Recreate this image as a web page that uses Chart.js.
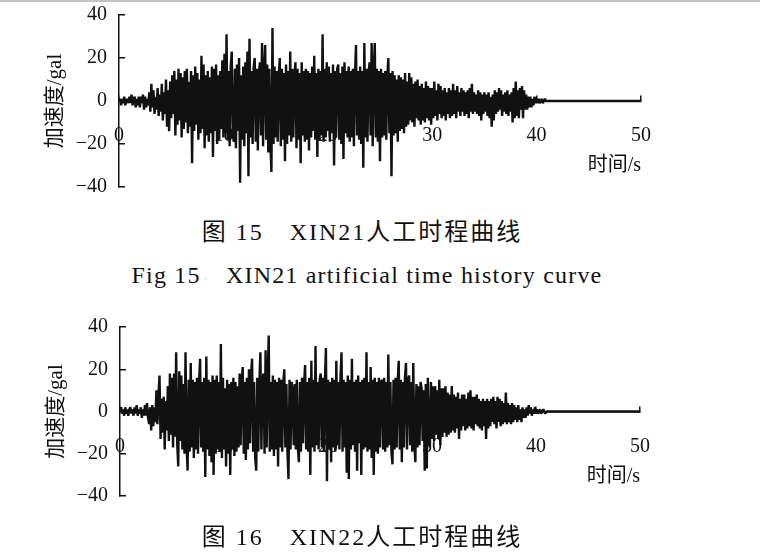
<!DOCTYPE html>
<html>
<head>
<meta charset="utf-8">
<script src="https://cdn.jsdelivr.net/npm/chart.js@4.4.1/dist/chart.umd.min.js"></script>
<style>
  body { margin: 0; background: #fff; width: 760px; height: 560px; position: relative; overflow: hidden;
         font-family: 'Liberation Serif', 'Noto Sans CJK SC', serif; color: #111; }
  .topline { position: absolute; left: 0; top: 0; width: 760px; height: 2px; background: #c4c4c4; }
  .box { position: absolute; left: 0; }
  .cap { position: absolute; left: 0; width: 724px; text-align: center; font-size: 24px; line-height: 28px;
         letter-spacing: 2px; white-space: nowrap; }
</style>
</head>
<body>
<div class="topline"></div>
<div class="box" style="top:-15px"><canvas id="chart21" width="760" height="232"></canvas></div>
<div class="cap" style="top:218px">图 15　XIN21人工时程曲线</div>
<div class="cap" style="top:261px;width:734px;letter-spacing:1.2px">Fig 15　XIN21 artificial time history curve</div>
<div class="box" style="top:297px"><canvas id="chart22" width="760" height="229"></canvas></div>
<div class="cap" style="top:523px">图 16　XIN22人工时程曲线</div>

<script>
// sample interval of the records (s)
var timeStep = 0.1;
var recordEnd = 50;

// XIN21 acceleration (gal), one row per second
var xin21Accel = [
  0, 1, -2, 1, -1, 2, -2, 0, 1, -1,
  2, -1, 3, -2, 1, 2, -3, 1, -2, 2,
  -3, 2, -1, 3, -4, 2, -3, 1, -2, 4,
  -5, 8, -3, 5, -6, 2, -4, 6, -7, 3,
  -5, 8, -9, 4, -6, 10, -12, 5, -14, 9,
  -8, 12, -6, 14, -16, 10, -11, 15, -9, 13,
  -17, 11, -13, 14, -10, 15, -15, 9, -12, 14,
  -29, 12, -14, 16, -11, 13, -18, 10, -15, 21,
  -13, 17, -22, 12, -16, 14, -19, 11, -15, 16,
  -26, 15, -14, 17, -20, 12, -18, 14, -13, 19,
  -17, 22, -15, 31, -18, 14, -21, 16, 23, -16,
  -19, 15, -22, 17, -14, 20, -38, 12, -18, 16,
  -21, 18, -15, 23, -35, 29, -17, 14, -20, 16,
  20, -19, 15, -23, 13, 18, -16, 27, -21, 14,
  26, -18, 17, -24, 15, -19, -33, 34, -20, 16,
  -17, 14, -19, 12, 20, -21, 15, -18, 13, -28,
  17, -20, 14, -16, 23, -19, 15, -17, 12, 18,
  -22, 15, -18, 13, -29, 18, -16, 14, -19, 15,
  -18, 14, -23, 13, -17, 16, -14, 21, -18, 13,
  -26, 15, -18, 14, -16, 31, -19, 15, -17, 18,
  -14, 16, -19, 13, -15, 17, -30, 14, -17, 15,
  17, -18, 13, -20, 16, -27, 18, -15, 14, -17,
  16, -19, 14, -17, 15, -21, 12, 26, -16, 14,
  -18, 16, -20, 14, -31, 27, -17, 15, -19, 13,
  18, -16, 27, -21, 14, 27, -17, 15, -19, 14,
  -28, 15, -17, 13, -16, 14, -18, 12, 20, -15,
  13, -35, 14, -16, 12, -15, 10, -19, 12, -14,
  11, -13, 10, -15, 13, -12, 9, -11, 13, -9,
  11, -10, 8, -12, 9, -8, 10, -9, 7, -11,
  8, -9, 6, -10, 9, -8, 7, -9, 6, -11,
  6, -8, 9, -7, 5, -9, 8, -6, 7, -8,
  5, -7, 6, -9, 4, -6, 6, -8, 5, -7,
  8, -6, 5, -8, 7, -5, 4, -7, 6, -5,
  5, -7, 4, -6, 5, -8, 6, -5, 8, -6,
  4, -5, 3, -6, 5, -7, 4, -9, 3, -6,
  4, -5, 3, -7, 4, -8, 2, -12, 3, -9,
  5, -6, 4, -5, 6, -4, 5, -7, 3, -5,
  4, -6, 5, -7, 3, -5, 4, -10, 6, -8,
  9, -7, 5, -8, 6, -4, 7, -8, 5, -4,
  3, -4, 2, -3, 2, -3, 1, -2, 2, -1,
  1, -1, 1, -1, 0, 1, -1, 0, 1, 0,
  0
];

// XIN22 acceleration (gal)
var xin22Accel = [
  0, 2, -1, 1, -2, 2, -1, 1, -2, 1,
  2, -1, 1, -2, 2, -1, 3, -2, 1, -1,
  2, -3, 1, -2, 3, -2, 4, -3, -6, 2,
  -9, 3, -7, 2, -5, 10, -6, 8, 17, -13,
  6, -10, 7, -18, 5, -9, 12, -14, 18, -11,
  16, -17, 18, -12, 28, -15, -26, 19, -14, 17,
  -18, 13, -20, 28, -16, -28, 15, -19, 23, -17,
  15, -22, 14, -18, 16, -20, 13, 25, -17, 14,
  -19, 16, -31, 26, -18, 15, -21, 14, -24, 17,
  -30, 15, -20, 17, -18, 14, -19, 32, -22, 16,
  -18, 11, -26, 15, -20, 13, -30, 14, -18, 16,
  -21, 14, -19, 12, -17, 18, -16, 15, 21, -20,
  14, -23, 16, -18, 20, -15, 17, 25, -19, 14,
  -22, -28, 16, -19, 14, 28, -18, 15, 18, -20,
  29, -17, 15, 36, -19, 14, -18, 17, -21, 15,
  -18, 14, -26, 16, -17, 15, -19, 14, 20, -17,
  13, -19, -32, 15, -18, 14, 10, -16, 13, -18,
  15, -17, -24, 14, -19, 16, -15, 13, 22, -18,
  14, -19, 16, -30, 24, -17, 15, -19, 31, -16,
  14, -18, 15, 18, -17, 16, -19, 14, 30, -33,
  15, -18, 14, -24, 16, -17, 15, -19, 24, -16,
  14, -18, 16, 28, -19, 15, -17, 14, -29, 17,
  -32, 15, -18, 25, -16, 14, -19, 15, -28, 17,
  -15, 14, -30, 15, -18, 16, -17, 28, -19, 14,
  -18, 21, -22, 15, -30, 16, -19, 14, -20, 16,
  -17, 14, 15, -18, 16, -19, 14, -17, 27, -16,
  14, -19, -25, 15, -18, 16, -17, 14, 24, -18,
  15, -24, 14, -17, 16, 23, -18, 15, 17, -16,
  14, -19, 23, -15, -24, 13, -17, 12, -16, 14,
  11, -14, 10, -28, 13, -27, 16, -12, -17, 14,
  -13, 12, -14, 12, -11, 10, -13, 15, -16, 11,
  -12, 11, -10, 12, -12, 9, -11, 8, -10, 12,
  -9, 8, -10, 7, -8, 9, -13, 6, -9, 8,
  -7, 8, -9, 6, -8, 9, -7, 10, -8, 7,
  -9, 7, -6, 8, -7, 6, -8, 5, -9, 6,
  -7, 5, -13, 6, -8, 5, -7, 6, -5, 7,
  -6, 5, -8, 7, -5, 6, -7, 5, -6, 4,
  -5, 9, -6, 4, -5, 3, -6, 4, -5, 3,
  -4, 2, -5, 3, -4, 1, -5, 2, -3, 1,
  -3, 2, -2, 3, -1, 2, -2, 1, -1, 2,
  -1, 1, -1, 0, 1, -1, 0, 1, 0, -1,
  0
];

var yTitle = '加速度/gal';
var xTitle = '时间/s';

function toPoints(values) {
  var pts = values.map(function (v, i) {
    return { x: Math.round(i * timeStep * 10) / 10, y: v };
  });
  // record stays at zero to the end of the window
  pts.push({ x: recordEnd, y: 0 });
  return pts;
}

function drawRecord(id, values, padLeft, padRight) {
  var serif = "'Liberation Serif', 'Noto Sans CJK SC', serif";
  var axisColor = '#111';
  new Chart(document.getElementById(id), {
    type: 'line',
    data: {
      datasets: [{
        data: toPoints(values),
        borderColor: '#111',
        borderWidth: 2.4,
        borderJoinStyle: 'bevel',
        pointRadius: 0,
        tension: 0
      }]
    },
    options: {
      responsive: false,
      animation: false,
      events: [],
      layout: { padding: { left: padLeft, right: padRight, top: 0, bottom: 0 } },
      plugins: { legend: { display: false }, tooltip: { enabled: false } },
      scales: {
        x: {
          type: 'linear',
          position: { y: 0 },
          min: 0, max: 50,
          afterFit: function (s) { s.height = 77; },
          ticks: { stepSize: 10, autoSkip: false, maxRotation: 0, padding: 29,
                   color: axisColor, font: { family: serif, size: 20 } },
          grid: { drawOnChartArea: false, drawTicks: true, tickLength: -6,
                  color: axisColor, lineWidth: 1.5 },
          border: { display: true, color: axisColor, width: 1.5 },
          title: { display: true, text: xTitle, align: 'end', padding: 0,
                   color: axisColor, font: { family: serif, size: 20 } }
        },
        y: {
          min: -40, max: 40,
          afterFit: function (s) { s.width = 79; },
          ticks: { stepSize: 20, padding: 18, color: axisColor,
                   font: { family: serif, size: 20 },
                   callback: function (v) { return String(v).replace('-', '\u2212'); } },
          grid: { drawOnChartArea: false, drawTicks: true, tickLength: -6,
                  color: axisColor, lineWidth: 1.5 },
          border: { display: true, color: axisColor, width: 1.5 },
          title: { display: true, text: yTitle, padding: { top: 3, bottom: 0 },
                   color: axisColor, font: { family: serif, size: 21 } }
        }
      }
    }
  });
}

drawRecord('chart21', xin21Accel, 40, 119);
drawRecord('chart22', xin22Accel, 41, 120);
</script>
</body>
</html>
